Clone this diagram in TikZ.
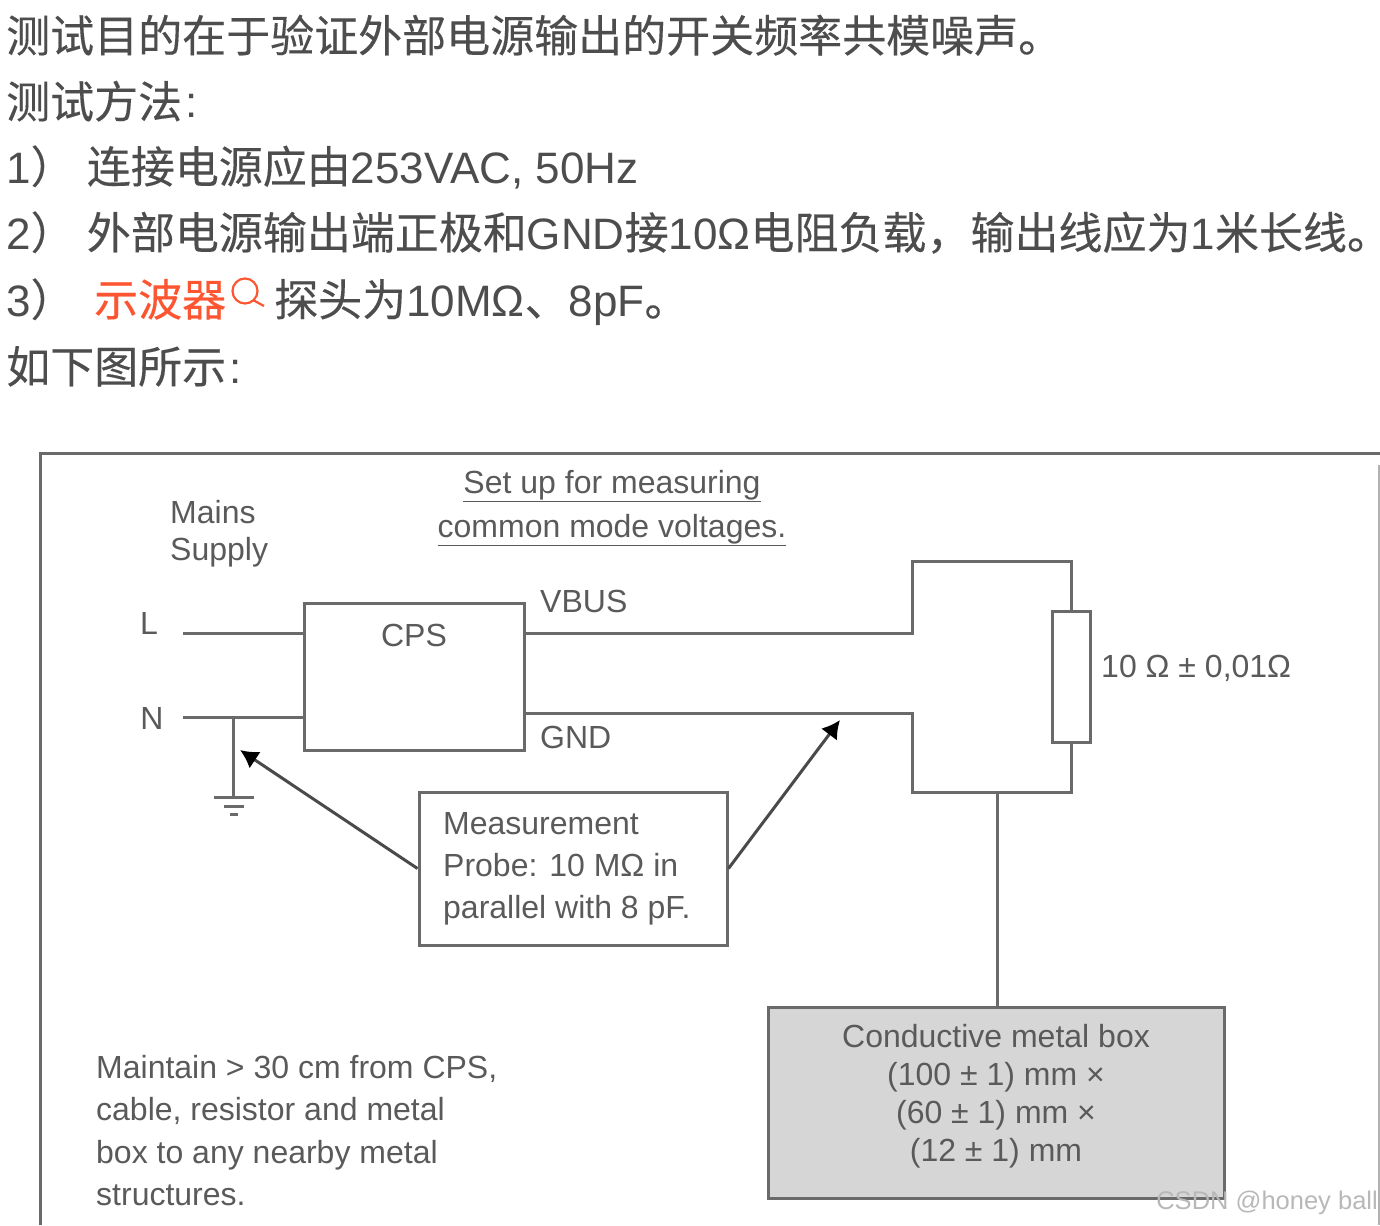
\documentclass[tikz,border=0pt]{standalone}
\usepackage{fontspec}
\setmainfont{Liberation Sans}
\newfontfamily\cjk[FakeBold=0.25]{Noto Sans CJK SC}
\newfontfamily\cjkhalf[FakeBold=0.25,RawFeature=+halt]{Noto Sans CJK SC}
\usetikzlibrary{arrows.meta}
\newcommand{\cn}[1]{{\cjk #1}}
\definecolor{textgray}{HTML}{4D4D4D}
\definecolor{wiregray}{HTML}{6A6A6A}
\definecolor{boxgray}{HTML}{D6D6D6}
\definecolor{linkred}{HTML}{FC5531}
\tikzset{
    x=1pt,y=-1pt,
    headline/.style={anchor=base west,inner sep=0pt,text=textgray,font=\fontsize{44}{44}\selectfont},
    figtext/.style={inner sep=0pt,text=wiregray!85!black,font=\fontsize{32}{42.3}\selectfont},
    wire/.style={draw=wiregray,line width=3pt},
    probe/.style={draw=wiregray!70!black,line width=3pt,-{Latex[length=18pt,width=20pt,black]}},
}
\begin{document}
\begin{tikzpicture}
    \useasboundingbox (0,0) rectangle (1380,1225);

    % text above the figure
    \node[headline] (line1) at (6,52) {\cn{测试目的在于验证外部电源输出的开关频率共模噪声。}};
    \node[headline] (line2) at (6,118) {\cn{测试方法}\hspace{3pt}:};
    \node[headline] (line3) at (6,183) {1\cn{）} \cn{连接电源应由}253VAC, 50Hz};
    \node[headline] (line4) at (6,249) {2\cn{）} \cn{外部电源输出端正极和}GND\cn{接}10Ω\cn{电阻负载，输出线应为}1\cn{米长线}{\cjkhalf 。}};
    \node[headline] (line5) at (6,316) {3\cn{）}};
    \node[headline,text=linkred] (scope) at (94,316) {\cn{示波器}};
    \node[headline] (line5b) at (274,316) {\cn{探头为}10MΩ\cn{、}8pF\cn{。}};
    \node[headline] (line6) at (6,383) {\cn{如下图所示}\hspace{3pt}:};

    % magnifier after the link
    \draw[linkred,line width=2.2pt] (245,291) circle (12.5);
    \draw[linkred,line width=2.2pt] (253,300) -- (264,306);

    % frame of the figure
    \draw[wiregray,line width=3pt] (40,1225) -- (40,453) -- (1380,453);
    \draw[black!30,line width=1.5pt] (1379,465) -- (1379,1225);

    % boxes
    \node[draw=wiregray,line width=3pt,minimum width=220pt,minimum height=147pt,inner sep=0pt] (cps) at (414,676.5) {};
    \node[draw=wiregray,line width=3pt,minimum width=38pt,minimum height=131pt,inner sep=0pt] (load) at (1071,676.5) {};
    \node[draw=wiregray,line width=3pt,minimum width=308pt,minimum height=153pt,inner sep=0pt] (meas) at (573,868.5) {};
    \node[draw=wiregray,fill=boxgray,line width=3pt,minimum width=456pt,minimum height=191pt,inner sep=0pt] (metal) at (996,1102.5) {};

    % labels
    \node[figtext,align=left,anchor=north west,font=\fontsize{32}{37}\selectfont] (mains) at (170,500) {Mains\\Supply};
    \node[figtext,align=center,font=\fontsize{32}{44}\selectfont] (title) at (612,508) {\underline{Set up for measuring}\\\underline{common mode voltages.}};
    \node[figtext] (ltext) at (149,623) {L};
    \node[figtext] (ntext) at (152,718) {N};
    \node[figtext] (cpstext) at (414,635) {CPS};
    \node[figtext,anchor=west] (vbus) at (540,601) {VBUS};
    \node[figtext,anchor=west] (gnd) at (540,737) {GND};
    \node[figtext,anchor=west] (ohm) at (1101,668) {10 Ω ± 0,01Ω};
    \node[figtext,align=left,anchor=west] (probetext) at (443,869) {Measurement\\Probe: 10 MΩ in\\parallel with 8 pF.};
    \node[figtext,align=center,font=\fontsize{32}{38}\selectfont] (metaltext) at (996,1096) {Conductive metal box\\(100 ± 1) mm ×\\(60 ± 1) mm ×\\(12 ± 1) mm};
    \node[figtext,align=left,anchor=north west] (keep) at (96,1055) {Maintain > 30 cm from CPS,\\cable, resistor and metal\\box to any nearby metal\\structures.};
    \node[inner sep=0pt,anchor=east,text=black!28,font=\fontsize{25.5}{25.5}\selectfont] (mark) at (1378,1203) {CSDN @honey ball};

    % mains side
    \coordinate (L) at (183,633);
    \coordinate (N) at (183,717);
    \coordinate (G) at (233,717);
    \coordinate (E) at (233,797);
    \draw[wire] (L) -- (L -| cps.west);
    \draw[wire] (N) -- (N -| cps.west);
    \draw[wire] (G) -- (E);
    \draw[wire] (214,797) -- (254,797);
    \draw[wire] (224,806) -- (244,806);
    \draw[wire] (230,814) -- (238,814);

    % output cable and load
    \coordinate (A) at (912,633);
    \coordinate (B) at (912,561);
    \coordinate (C) at (1071,561);
    \coordinate (D) at (1071,792);
    \coordinate (F) at (912,792);
    \coordinate (H) at (912,713);
    \coordinate (J) at (997,792);
    \draw[wire] (A -| cps.east) -- (A) -- (B) -- (C) -- (load.north);
    \draw[wire] (load.south) -- (D) -- (F) -- (H) -- (H -| cps.east);
    \draw[wire] (J) -- (J |- metal.north);

    % probe arrows
    \coordinate (P) at (240,750);
    \coordinate (Q) at (840,720);
    \draw[probe] (meas.west) -- (P);
    \draw[probe] (meas.east) -- (Q);
\end{tikzpicture}
\end{document}
